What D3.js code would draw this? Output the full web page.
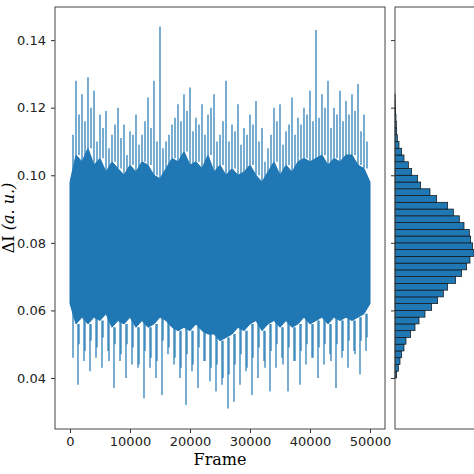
<!DOCTYPE html>
<html><head><meta charset="utf-8">
<script src="https://cdn.jsdelivr.net/npm/d3@7"></script>
<style>body{margin:0;background:#fff}svg{display:block}</style>
</head><body><div id="chart"></div>
<script>
// spike envelope, one value per 1000 frames
const frames = d3.range(0, 50001, 1000);
const upper = [0.098,0.128,0.124,0.129,0.125,0.118,0.119,0.112,0.120,0.115,0.113,0.118,0.112,0.123,0.128,0.144,0.110,0.115,0.121,0.124,0.126,0.117,0.121,0.118,0.124,0.112,0.128,0.115,0.121,0.114,0.118,0.122,0.114,0.108,0.120,0.121,0.113,0.123,0.117,0.120,0.125,0.143,0.124,0.128,0.120,0.125,0.122,0.124,0.127,0.118,0.098];
const lower = [0.062,0.038,0.045,0.042,0.046,0.043,0.048,0.037,0.045,0.040,0.044,0.043,0.034,0.043,0.040,0.035,0.047,0.044,0.040,0.032,0.042,0.037,0.045,0.039,0.036,0.038,0.031,0.033,0.038,0.042,0.035,0.040,0.045,0.036,0.043,0.046,0.036,0.045,0.038,0.044,0.046,0.040,0.044,0.047,0.037,0.046,0.043,0.048,0.041,0.048,0.062];
// secondary spikes halfway between, per 1000 frames
const upperMid = [0.112,0.118,0.116,0.120,0.110,0.114,0.108,0.115,0.111,0.106,0.112,0.109,0.116,0.114,0.110,0.108,0.112,0.117,0.116,0.119,0.113,0.115,0.112,0.120,0.110,0.116,0.110,0.113,0.109,0.112,0.115,0.110,0.104,0.112,0.116,0.109,0.115,0.112,0.115,0.118,0.116,0.117,0.120,0.114,0.118,0.116,0.118,0.119,0.113,0.110];
const lowerMid = [0.046,0.050,0.048,0.051,0.049,0.052,0.045,0.050,0.047,0.050,0.049,0.044,0.048,0.046,0.045,0.051,0.049,0.046,0.043,0.047,0.044,0.049,0.045,0.043,0.044,0.040,0.041,0.044,0.047,0.043,0.046,0.049,0.043,0.048,0.050,0.044,0.049,0.045,0.048,0.050,0.046,0.049,0.050,0.045,0.050,0.048,0.051,0.047,0.051,0.052];
// dense core of the trace, per 1000 frames
const coreTop = [0.098,0.106,0.104,0.108,0.103,0.105,0.101,0.104,0.102,0.100,0.103,0.101,0.104,0.103,0.100,0.099,0.102,0.105,0.104,0.107,0.103,0.104,0.102,0.106,0.101,0.103,0.100,0.102,0.100,0.101,0.103,0.100,0.098,0.101,0.104,0.100,0.103,0.101,0.104,0.105,0.104,0.105,0.106,0.103,0.105,0.104,0.106,0.106,0.103,0.102,0.098];
const coreBottom = [0.062,0.056,0.058,0.056,0.058,0.057,0.059,0.055,0.057,0.056,0.058,0.055,0.057,0.055,0.056,0.058,0.057,0.055,0.054,0.055,0.054,0.056,0.054,0.053,0.053,0.051,0.052,0.053,0.055,0.054,0.056,0.057,0.054,0.056,0.057,0.055,0.057,0.055,0.056,0.058,0.056,0.057,0.058,0.056,0.058,0.057,0.058,0.057,0.058,0.059,0.062];
// histogram: bin start values (ascending) and counts (a.u.)
const binStarts = d3.range(0.040, 0.1235, 0.002).map(v => +v.toFixed(3));
const counts = [0.5,1,2,3,4,5,7,12,20,27,40,50,68,77,105,125,158,175,193,207,223,227,233,237,225,215,200,182,158,145,128,110,90,72,60,47,33,27,20,15,10,5].reverse();
const xTicks = [0,10000,20000,30000,40000,50000];
const yTicks = [0.04,0.06,0.08,0.10,0.12,0.14];

const width = 474, height = 474;
const margin = {top: 7, bottom: 429, left: 55, right: 385};
const svg = d3.select("#chart").append("svg").attr("width", width).attr("height", height);

const x = d3.scaleLinear([-2500, 52500], [margin.left, margin.right]);
const y = d3.scaleLinear([0.0249, 0.1498], [margin.bottom, margin.top]);
const blue = "#1f77b4";

const core = d3.area().x((d, i) => x(frames[i])).y0((d, i) => y(coreBottom[i])).y1(d => y(d));
svg.append("path").datum(coreTop).attr("d", core).attr("fill", blue).attr("stroke", blue).attr("stroke-width", 1);

const spikes = svg.append("g").attr("stroke", blue).attr("stroke-width", 1.2);
const vline = (sel, fx, y1, y2) => sel.join("line").attr("x1", fx).attr("x2", fx).attr("y1", y1).attr("y2", y2);
vline(spikes.selectAll(".up").data(frames), d => x(d), (d, i) => y(coreTop[i]), (d, i) => y(upper[i]));
vline(spikes.selectAll(".lo").data(frames), d => x(d) + 2, (d, i) => y(coreBottom[i]), (d, i) => y(lower[i]));
const mids = frames.slice(0, -1);
spikes.selectAll(".um").data(mids).join("line").attr("class", "um")
  .attr("x1", d => x(d + 500)).attr("x2", d => x(d + 500))
  .attr("y1", (d, i) => y(coreTop[i])).attr("y2", (d, i) => y(upperMid[i]));
spikes.selectAll(".lm").data(mids).join("line").attr("class", "lm")
  .attr("x1", d => x(d + 500)).attr("x2", d => x(d + 500))
  .attr("y1", (d, i) => y(coreBottom[i])).attr("y2", (d, i) => y(lowerMid[i]));

const font = "DejaVu Sans";
const gx = svg.append("g").attr("transform", `translate(0,${margin.bottom})`)
  .call(d3.axisBottom(x).tickValues(xTicks).tickFormat(d3.format("d")).tickSizeOuter(0).tickSize(4).tickPadding(4));
const gy = svg.append("g").attr("transform", `translate(${margin.left},0)`)
  .call(d3.axisLeft(y).tickValues(yTicks).tickFormat(d3.format(".2f")).tickSizeOuter(0).tickSize(4).tickPadding(5));
[gx, gy].forEach(g => { g.select(".domain").remove(); g.selectAll("text").attr("font-family", font).attr("font-size", 13).attr("fill", "#222"); g.selectAll("line").attr("stroke", "#333"); });
svg.append("rect").attr("x", margin.left).attr("y", margin.top).attr("width", margin.right - margin.left).attr("height", margin.bottom - margin.top)
  .attr("fill", "none").attr("stroke", "#444").attr("stroke-width", 1);

svg.append("text").attr("x", (margin.left + margin.right) / 2).attr("y", 465).attr("text-anchor", "middle")
  .attr("font-family", "DejaVu Serif").attr("font-size", 16).text("Frame");
svg.append("text").attr("transform", `translate(14,${(margin.top + margin.bottom) / 2}) rotate(-90)`).attr("text-anchor", "middle")
  .attr("font-family", "DejaVu Serif").attr("font-size", 16)
  .html('ΔI <tspan font-style="italic">(a. u.)</tspan>');

// histogram panel
const hLeft = 395, hRight = 560;
const hx = d3.scaleLinear([0, 237 * (hRight - hLeft) / 79], [hLeft, hRight]);
svg.append("g").selectAll("rect").data(binStarts).join("rect")
  .attr("x", hLeft).attr("y", d => y(d + 0.002)).attr("height", d => y(d) - y(d + 0.002))
  .attr("width", (d, i) => hx(counts[i]) - hLeft)
  .attr("fill", blue).attr("stroke", "#111").attr("stroke-width", 0.7);
const hy = svg.append("g").attr("transform", `translate(${hLeft},0)`)
  .call(d3.axisLeft(y).tickValues(yTicks).tickFormat("").tickSizeOuter(0).tickSize(4));
hy.select(".domain").remove(); hy.selectAll("line").attr("stroke", "#333");
svg.append("rect").attr("x", hLeft).attr("y", margin.top).attr("width", hRight - hLeft).attr("height", margin.bottom - margin.top)
  .attr("fill", "none").attr("stroke", "#444").attr("stroke-width", 1);
</script></body></html>
